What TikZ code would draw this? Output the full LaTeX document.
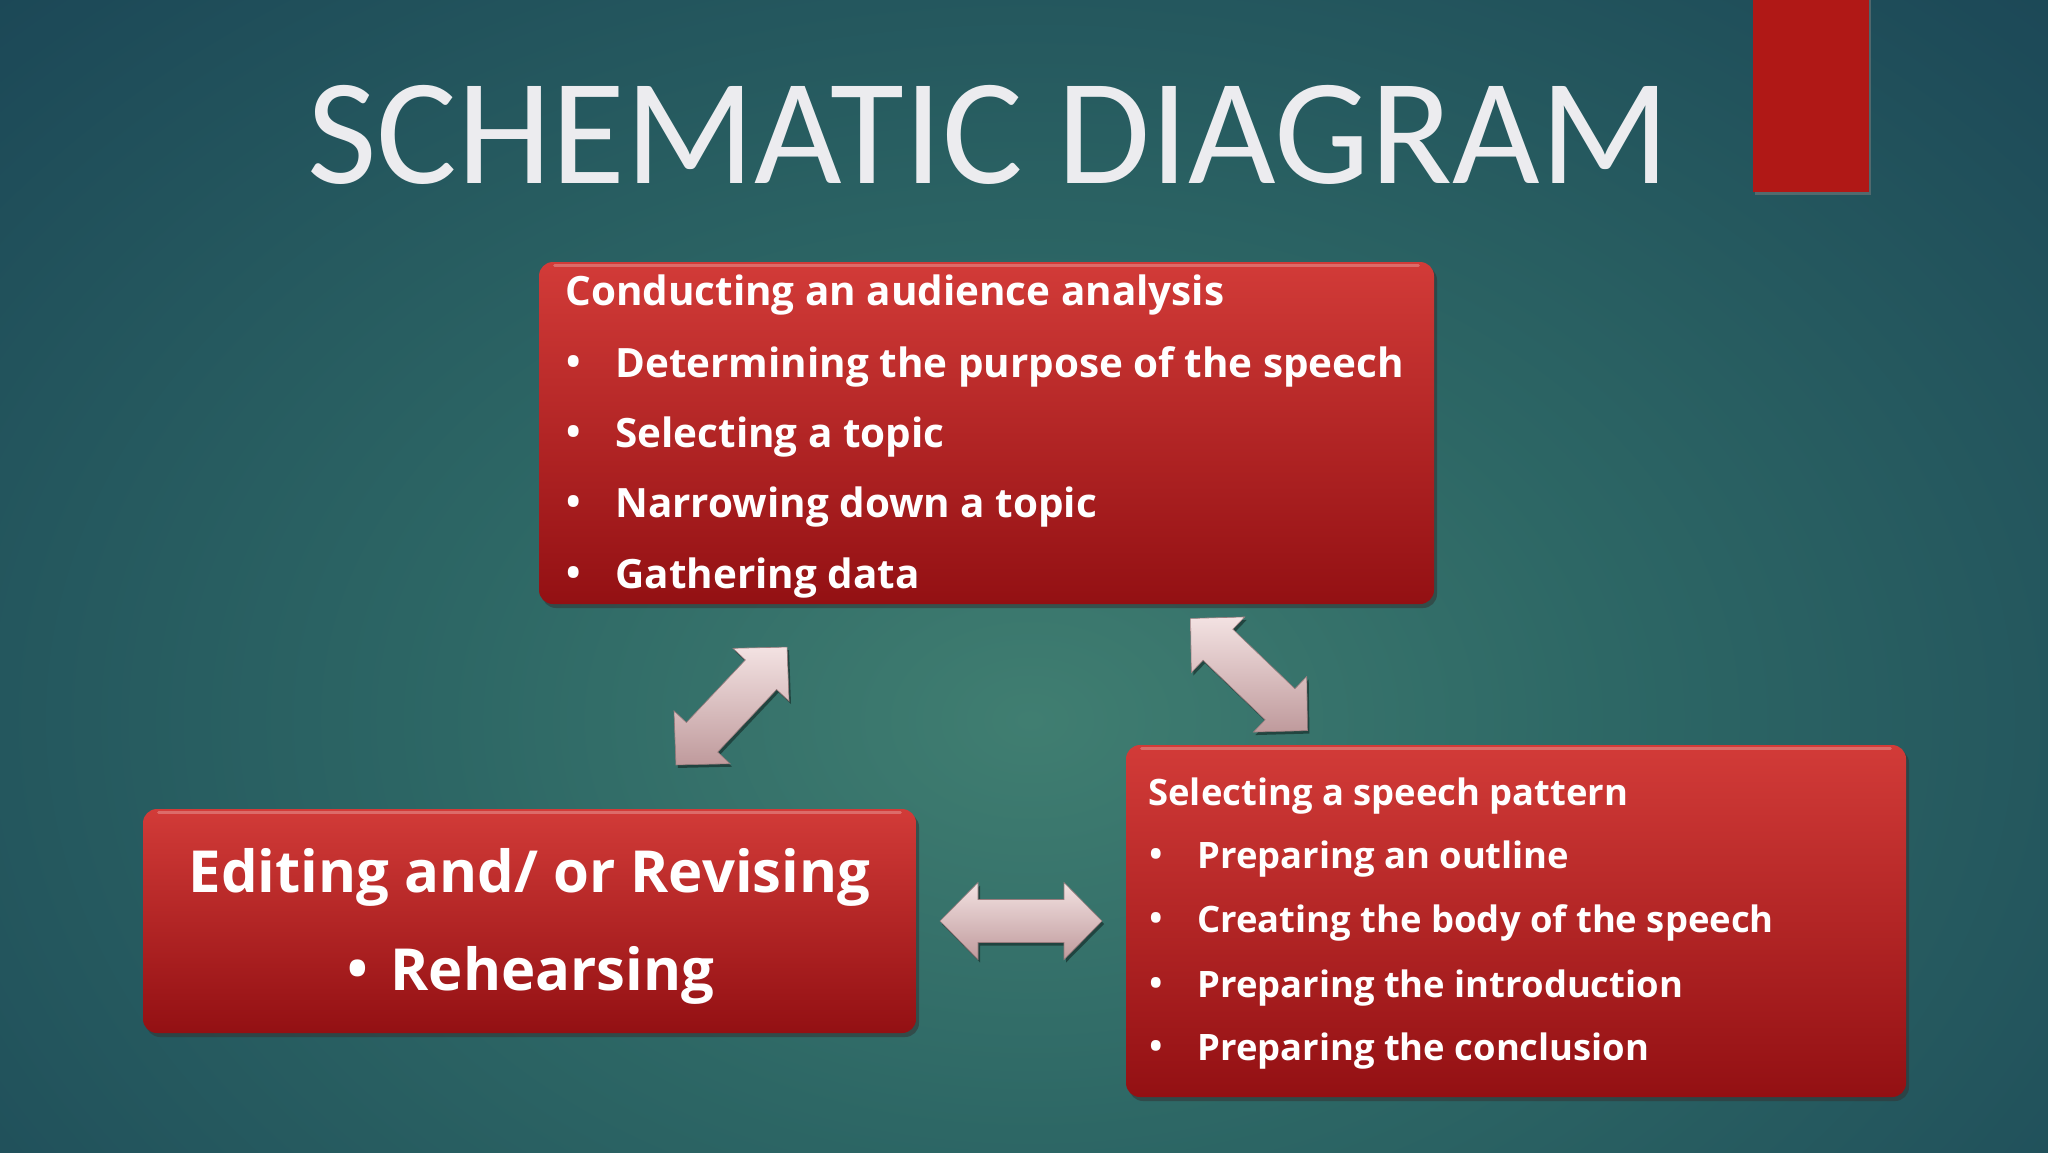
\documentclass[tikz,border=0pt]{standalone}
\usepackage{fontspec}
\setmainfont{Carlito}
\newfontfamily\boxfont{Open Sans}
\usetikzlibrary{shadows}
\definecolor{bgc}{HTML}{407E71}
\definecolor{bgm}{HTML}{2D6765}
\definecolor{bge}{HTML}{1D4A58}
\definecolor{bgo}{HTML}{13364A}
\definecolor{boxtop}{HTML}{D23B38}
\definecolor{boxbot}{HTML}{931013}
\definecolor{accent}{HTML}{B01816}
\definecolor{titlecol}{HTML}{ECECEF}
\definecolor{arrtop}{HTML}{F3E2E2}
\definecolor{arrbot}{HTML}{BF9A9C}
\pgfdeclareradialshading{bgrad}{\pgfpoint{0bp}{0bp}}{color(0bp)=(bgc); color(11bp)=(bgm); color(26bp)=(bge); color(40bp)=(bgo); color(50bp)=(bgo)}
\tikzset{
  redbox/.style={draw=none, rounded corners=7pt, top color=boxtop, bottom color=boxbot,
    drop shadow={shadow xshift=1.5pt, shadow yshift=-2pt, opacity=0.55, fill=black!80}},
  boxtxt/.style={text=white, inner sep=0pt, anchor=base west},
  blockarrow/.style={top color=arrtop, bottom color=arrbot, draw=arrbot!80!black, line width=0.3pt,
    drop shadow={shadow xshift=1pt, shadow yshift=-1.5pt, opacity=0.4, fill=black}},
}
\newcommand{\arrowshape}{(-81,0) -- (-43,-38.5) -- (-43,-21.5) -- (43,-21.5) -- (43,-38.5) -- (81,0) -- (43,38.5) -- (43,21.5) -- (-43,21.5) -- (-43,38.5) -- cycle}
\newcommand{\smbul}{\raisebox{0.03em}{\scalebox{0.95}{•}}}
\begin{document}
\begin{tikzpicture}[x=0.5pt, y=-0.5pt]
\useasboundingbox (0,0) rectangle (2048,1152);
% background
\fill[bgo] (0,0) rectangle (2048,1152);
\begin{scope}
\clip (0,0) rectangle (2048,1152);
\shade[shading=bgrad] (-300,-220) rectangle (2360,1660);
\end{scope}
% accent bar
\fill[accent, drop shadow={shadow xshift=1pt, shadow yshift=-1.5pt, opacity=0.5}] (1753,-5) rectangle (1869,192);
% title
\node[anchor=base west, inner sep=0pt, text=titlecol] (title) at (307,183)
  {\resizebox{681pt}{!}{\fontsize{79pt}{80pt}\selectfont SCHEMATIC DIAGRAM}};
% boxes
\node[redbox, minimum width=447.5pt, minimum height=171pt] (b1) at (986.5,433) {};
\node[redbox, minimum width=390pt, minimum height=176pt] (b2) at (1516,921) {};
\node[redbox, minimum width=386.5pt, minimum height=112pt] (b3) at (529.5,921) {};
% glossy top highlights
\draw[white, opacity=0.25, line width=1.5pt, line cap=round] ([xshift=8pt,yshift=-2pt]b1.north west) -- ([xshift=-8pt,yshift=-2pt]b1.north east);
\draw[white, opacity=0.25, line width=1.5pt, line cap=round] ([xshift=8pt,yshift=-2pt]b2.north west) -- ([xshift=-8pt,yshift=-2pt]b2.north east);
\draw[white, opacity=0.25, line width=1.5pt, line cap=round] ([xshift=8pt,yshift=-2pt]b3.north west) -- ([xshift=-8pt,yshift=-2pt]b3.north east);
% box 1 text
\begin{scope}[every node/.style={boxtxt, font=\boxfont\bfseries\fontsize{20.2pt}{23pt}\selectfont}]
\node (t1h) at (565,305) {Conducting an audience analysis};
\node (t1a) at (566,377) {\smbul}; \node (t1at) at (615,377) {Determining the purpose of the speech};
\node (t1b) at (566,447) {\smbul}; \node (t1bt) at (615,447) {Selecting a topic};
\node (t1c) at (566,517) {\smbul}; \node (t1ct) at (615,517) {Narrowing down a topic};
\node (t1d) at (566,588) {\smbul}; \node (t1dt) at (615,588) {Gathering data};
\end{scope}
% box 2 text
\begin{scope}[every node/.style={boxtxt, font=\boxfont\bfseries\fontsize{18.2pt}{21pt}\selectfont}]
\node (t2h) at (1148,805) {Selecting a speech pattern};
\node (t2a) at (1149,868) {\smbul}; \node (t2at) at (1197,868) {Preparing an outline};
\node (t2b) at (1149,932) {\smbul}; \node (t2bt) at (1197,932) {Creating the body of the speech};
\node (t2c) at (1149,997) {\smbul}; \node (t2ct) at (1197,997) {Preparing the introduction};
\node (t2d) at (1149,1060) {\smbul}; \node (t2dt) at (1197,1060) {Preparing the conclusion};
\end{scope}
% box 3 text
\begin{scope}[every node/.style={text=white, inner sep=0pt, anchor=base, font=\boxfont\bfseries\fontsize{29pt}{32pt}\selectfont}]
\node (t3a) at (529.5,892) {Editing and/ or Revising};
\node (t3b) at (531,990) {\smbul\hspace{11pt}Rehearsing};
\end{scope}
% block arrows
\coordinate (aA) at (731.5,706);
\coordinate (aB) at (1249,674.5);
\coordinate (aC) at (1021,921);
\begin{scope}[shift={(aA)}, rotate=46.7]
\path[blockarrow] \arrowshape;
\end{scope}
\begin{scope}[shift={(aB)}, rotate=-43.8]
\path[blockarrow] \arrowshape;
\end{scope}
\begin{scope}[shift={(aC)}]
\path[blockarrow] \arrowshape;
\end{scope}
\end{tikzpicture}
\end{document}
